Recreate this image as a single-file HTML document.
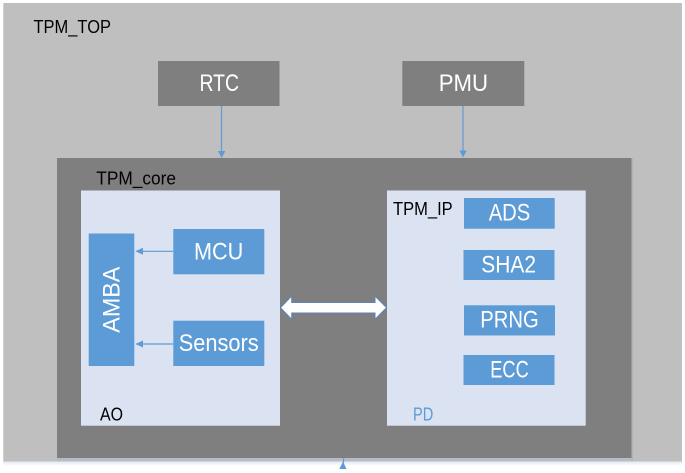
<!DOCTYPE html>
<html>
<head>
<meta charset="utf-8">
<style>
html,body{margin:0;padding:0;background:#fff;width:685px;height:473px;overflow:hidden}
svg{display:block}
text{font-family:"Liberation Sans",sans-serif}
.w{fill:#fff;font-size:24px}
.k{fill:#000;font-size:18.5px}
</style>
</head>
<body>
<svg width="685" height="473" viewBox="0 0 685 473" xmlns="http://www.w3.org/2000/svg">
<defs>
<filter id="s" x="-5%" y="-5%" width="110%" height="110%"><feGaussianBlur stdDeviation="0.35"/></filter>
<linearGradient id="g" x1="0" y1="0" x2="0" y2="1"><stop offset="0" stop-color="#dfe7ef"/><stop offset="1" stop-color="#ffffff"/></linearGradient>
</defs>
<rect width="685" height="473" fill="#fff"/>
<rect x="3" y="461" width="679" height="5" fill="url(#g)"/>
<g filter="url(#s)">
<rect x="3.3" y="3" width="678.7" height="458.5" fill="#bfbfbf"/>
<rect x="57" y="158" width="574.5" height="300" fill="#7f7f7f"/>
<rect x="57" y="458" width="575" height="3" fill="#b4bcc6"/>
<rect x="631.5" y="158" width="1.5" height="303" fill="#acb3bb"/>

<rect x="158" y="61" width="121.5" height="45" fill="#7f7f7f"/>
<rect x="402.3" y="61" width="122" height="45" fill="#7f7f7f"/>

<rect x="81" y="190.5" width="199" height="235.2" fill="#dbe3f3"/>
<rect x="387" y="190.5" width="198.7" height="235.2" fill="#dbe3f3"/>

<rect x="88.7" y="233.5" width="45.6" height="132.5" fill="#5b9bd5"/>
<rect x="173.3" y="229" width="91" height="45.3" fill="#5b9bd5"/>
<rect x="173.3" y="320.7" width="91" height="45.3" fill="#5b9bd5"/>
<rect x="464" y="198" width="90.7" height="30.7" fill="#5b9bd5"/>
<rect x="463.5" y="250" width="91" height="30" fill="#5b9bd5"/>
<rect x="464" y="305.3" width="91" height="30.2" fill="#5b9bd5"/>
<rect x="463.5" y="355" width="91" height="30" fill="#5b9bd5"/>

<g stroke="#5b9bd5" stroke-width="1.2" fill="none">
<line x1="221.5" y1="106" x2="221.5" y2="152"/>
<line x1="463" y1="106" x2="463" y2="151"/>
<line x1="173" y1="251.3" x2="142" y2="251.3"/>
<line x1="173" y1="344" x2="142" y2="344"/>
<line x1="343.5" y1="458" x2="343.5" y2="463"/>
</g>
<g fill="#5b9bd5">
<polygon points="218,151 225.3,151 221.7,158"/>
<polygon points="459.5,150.5 466.7,150.5 463,157.5"/>
<polygon points="135.3,251.3 143,247.8 143,254.8"/>
<polygon points="135.3,344 143,340.5 143,347.5"/>
<polygon points="343,461.5 339.3,469 346.5,469"/>
</g>

<polygon points="280.5,307.7 291.7,296 291.7,302.5 375,302.5 375,296 386.5,307.7 375,319.3 375,313 291.7,313 291.7,319.3" fill="#fff" stroke="#5a86b8" stroke-width="1"/>

<text class="k" x="33.5" y="33" textLength="77.5" lengthAdjust="spacingAndGlyphs">TPM_TOP</text>
<text class="k" x="96.3" y="184.5" textLength="79.7" lengthAdjust="spacingAndGlyphs">TPM_core</text>
<text class="k" x="393" y="215" textLength="59.7" lengthAdjust="spacingAndGlyphs">TPM_IP</text>
<text class="k" x="100" y="420.7" textLength="23" lengthAdjust="spacingAndGlyphs">AO</text>
<text class="k" x="413" y="420.7" textLength="20.3" lengthAdjust="spacingAndGlyphs" style="fill:#5b9bd5">PD</text>

<text class="w" x="199.5" y="91" textLength="39.5" lengthAdjust="spacingAndGlyphs">RTC</text>
<text class="w" x="438.7" y="91" textLength="49.3" lengthAdjust="spacingAndGlyphs">PMU</text>
<text class="w" x="194" y="259.3" textLength="49.3" lengthAdjust="spacingAndGlyphs">MCU</text>
<text class="w" x="178.7" y="351" textLength="80" lengthAdjust="spacingAndGlyphs">Sensors</text>
<text class="w" x="488.7" y="220.7" textLength="41.6" lengthAdjust="spacingAndGlyphs">ADS</text>
<text class="w" x="481.3" y="272.7" textLength="54.7" lengthAdjust="spacingAndGlyphs">SHA2</text>
<text class="w" x="480.3" y="327.7" textLength="58.4" lengthAdjust="spacingAndGlyphs">PRNG</text>
<text class="w" x="490.3" y="377.7" textLength="38.4" lengthAdjust="spacingAndGlyphs">ECC</text>
<text class="w" transform="translate(119.3 332.7) rotate(-90)" x="0" y="0" textLength="66" lengthAdjust="spacingAndGlyphs">AMBA</text>
</g>
</svg>
</body>
</html>
